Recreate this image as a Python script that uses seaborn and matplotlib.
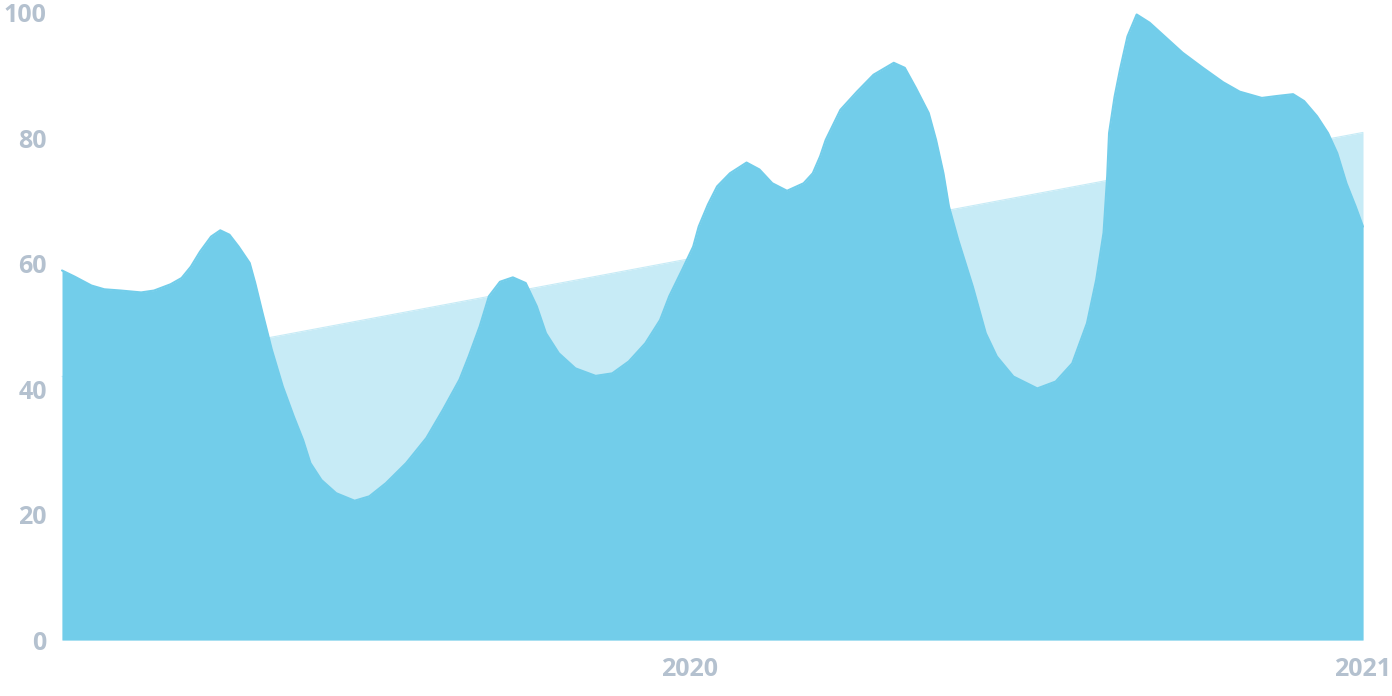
import numpy as np
import pandas as pd
import matplotlib
matplotlib.use("Agg")
import matplotlib.pyplot as plt
import seaborn as sns

# ---- data ----
reference_date = "2020-01-01"
day_offsets = [-341, -334, -325, -318, -309, -298, -291, -282, -276, -271,
               -266, -260, -255, -250, -245, -239, -236, -232, -227, -221,
               -215, -210, -206, -200, -192, -182, -174, -165, -154, -143,
               -134, -125, -120, -114, -109, -103, -96, -89, -83, -78,
               -71, -62, -51, -42, -33, -24, -16, -11, -4, 2,
               5, 10, 15, 22, 31, 38, 45, 53, 62, 67,
               71, 74, 82, 91, 100, 111, 117, 123, 130, 134,
               138, 141, 146, 154, 161, 167, 176, 189, 199, 208,
               216, 221, 225, 227, 228, 231, 234, 238, 243, 250,
               259, 268, 279, 290, 299, 311, 319, 328, 334, 341,
               347, 352, 357, 362, 366]
values = [58.9, 57.9, 56.5, 55.9, 55.7, 55.4, 55.7, 56.7, 57.7, 59.5,
          61.9, 64.3, 65.3, 64.6, 62.7, 60.1, 56.9, 52.1, 46.3, 40.4,
          35.6, 31.9, 28.2, 25.5, 23.4, 22.2, 22.9, 25.0, 28.2, 32.2,
          36.7, 41.5, 45.2, 50.0, 54.8, 57.1, 57.8, 56.9, 53.2, 48.9,
          45.7, 43.3, 42.1, 42.5, 44.4, 47.3, 51.0, 54.8, 59.0, 62.7,
          65.9, 69.4, 72.3, 74.4, 76.1, 75.0, 72.8, 71.6, 72.8, 74.4,
          77.1, 79.7, 84.5, 87.4, 90.1, 92.0, 91.2, 88.0, 84.0, 79.7,
          74.4, 69.1, 63.8, 56.3, 48.9, 45.2, 42.0, 40.1, 41.2, 44.1,
          50.5, 57.4, 64.9, 74.0, 80.8, 86.6, 91.0, 96.2, 99.7, 98.4,
          96.0, 93.6, 91.2, 88.9, 87.4, 86.4, 86.7, 87.0, 85.9, 83.5,
          80.8, 77.6, 72.8, 69.1, 65.9]
trend_values = [42.0, 80.9]          # linear trend at first / last date
y_ticks = [0, 20, 40, 60, 80, 100]
x_tick_labels = ["2020", "2021"]

# ---- build frames ----
dates = pd.Timestamp(reference_date) + pd.to_timedelta(day_offsets, unit="D")
df = pd.DataFrame({"date": dates, "value": values})
trend_df = pd.DataFrame({"date": [dates[0], dates[-1]], "value": trend_values})

sns.set_theme(style="white")
plt.rcParams["font.family"] = ["Open Sans", "DejaVu Sans"]

main_color = "#72cdea"
light_color = "#c7ebf6"
label_color = "#b4c1cf"

fig = plt.figure(figsize=(13.92, 6.96), dpi=100)
ax = fig.add_axes([62 / 1392, 56 / 696, (1363 - 62) / 1392, (640 - 12.6) / 696])

# trend area (light)
ax.fill_between(trend_df["date"], 0, trend_df["value"], color=light_color, lw=0, zorder=1)
sns.lineplot(data=trend_df, x="date", y="value", ax=ax, color=light_color, lw=0.8, zorder=1)

# main area
ax.fill_between(df["date"], 0, df["value"], color=main_color, lw=0, zorder=2)
sns.lineplot(data=df, x="date", y="value", ax=ax, color=main_color, lw=1.5,
             zorder=2, solid_joinstyle="round")

ax.set_xlim(dates[0], dates[-1])
ax.set_ylim(0, 100)
ax.set_yticks(y_ticks)
ax.set_yticklabels([str(t) for t in y_ticks])
ax.set_xticks([pd.Timestamp(s + "-01-01") for s in x_tick_labels])
ax.set_xticklabels(x_tick_labels)

for s in ax.spines.values():
    s.set_visible(False)
ax.grid(False)
ax.set_xlabel("")
ax.set_ylabel("")
ax.tick_params(axis="y", length=0, pad=11, labelsize=18, labelcolor=label_color)
ax.tick_params(axis="x", length=0, pad=12, labelsize=18, labelcolor=label_color)
for lab in ax.get_xticklabels() + ax.get_yticklabels():
    lab.set_fontweight("bold")
for line in ax.lines:
    line.set_clip_on(False)

fig.savefig("out.png", dpi=100, facecolor="white")
